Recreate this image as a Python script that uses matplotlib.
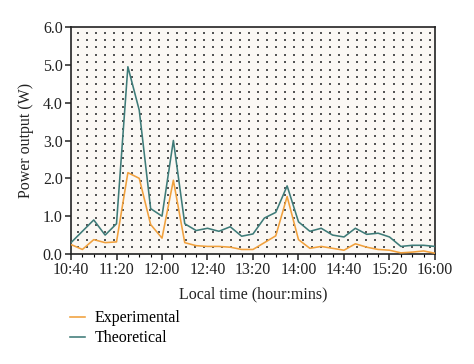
import numpy as np
import matplotlib
matplotlib.use("Agg")
import matplotlib.pyplot as plt

# Data (every 10 minutes, 10:40 -> 16:00)
minutes = list(range(0, 330, 10))  # minutes since 10:40
experimental = [0.25, 0.12, 0.38, 0.30, 0.32, 2.15, 2.00, 0.78, 0.42, 1.95,
                0.30, 0.22, 0.20, 0.20, 0.18, 0.12, 0.12, 0.30, 0.48, 1.52,
                0.38, 0.15, 0.20, 0.15, 0.10, 0.27, 0.18, 0.12, 0.10, 0.03,
                0.05, 0.08, 0.02]
theoretical = [0.30, 0.60, 0.90, 0.50, 0.80, 4.95, 3.80, 1.20, 1.00, 3.00,
               0.80, 0.62, 0.68, 0.60, 0.72, 0.47, 0.53, 0.95, 1.10, 1.80,
               0.85, 0.60, 0.68, 0.50, 0.45, 0.68, 0.52, 0.55, 0.45, 0.20,
               0.23, 0.23, 0.20]
xtick_labels = ["10:40", "11:20", "12:00", "12:40", "13:20", "14:00", "14:40", "15:20", "16:00"]
ytick_labels = ["0.0", "1.0", "2.0", "3.0", "4.0", "5.0", "6.0"]

plt.rcParams['font.family'] = ['Liberation Serif', 'DejaVu Serif']

fig = plt.figure(figsize=(4.74, 3.64), dpi=100)
ax = fig.add_axes([0.1498, 0.3022, 0.7679, 0.6236])
ax.set_facecolor('#fbf8f4')

# dotted background texture
gx, gy = np.meshgrid(np.linspace(0.02, 0.985, 40), np.linspace(0.03, 0.975, 30))
ax.scatter(gx.ravel(), gy.ravel(), s=0.9, marker='s', color='#555555', linewidths=0,
           transform=ax.transAxes, zorder=1)

orange = '#f0a03c'
teal = '#3e7b78'
ax.plot(minutes, experimental, color=orange, lw=1.15, label='Experimental', zorder=3)
ax.plot(minutes, theoretical, color=teal, lw=1.15, label='Theoretical', zorder=3)

ax.set_xlim(0, 320)
ax.set_ylim(0, 6)
ax.set_xticks(range(0, 321, 40))
ax.set_xticklabels(xtick_labels)
ax.set_xticks(range(0, 321, 10), minor=True)
ax.set_yticks(range(0, 7))
ax.set_yticklabels(ytick_labels)

for s in ax.spines.values():
    s.set_linewidth(1.2)
    s.set_color('#222222')
ax.tick_params(axis='both', which='major', direction='out', length=4, width=1.1,
               labelsize=11.5, colors='#222222', pad=2)
ax.tick_params(axis='x', which='minor', direction='out', length=2, width=0.8)

ax.set_xlabel('Local time (hour:mins)', fontsize=11.5, color='#222222', labelpad=6)
ax.set_ylabel('Power output (W)', fontsize=11.5, color='#222222', labelpad=6)

fig.legend(loc='upper left', bbox_to_anchor=(0.135, 0.165), frameon=False,
           fontsize=11.5, handlelength=0.9, handletextpad=0.6, labelspacing=0.25,
           borderaxespad=0)

fig.savefig('out.png', dpi=100)
